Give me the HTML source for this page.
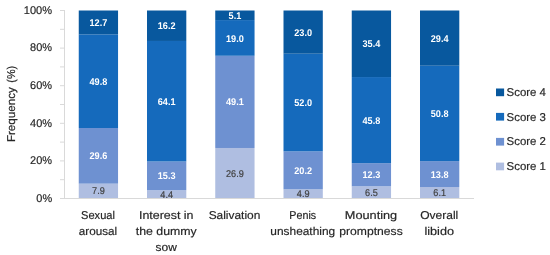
<!DOCTYPE html>
<html lang="en"><head><meta charset="utf-8"><title>Frequency chart</title>
<style>html,body{margin:0;padding:0;background:#fff}body{width:550px;height:255px;overflow:hidden}svg{display:block}text{font-family:"Liberation Sans",sans-serif;text-rendering:geometricPrecision}</style></head><body>
<svg width="550" height="255" viewBox="0 0 550 255">
<rect width="550" height="255" fill="#fff"/>
<text x="36.30" y="201.80" font-size="11.2" stroke="#262626" stroke-width="0.18" fill="#262626" textLength="15.80" lengthAdjust="spacingAndGlyphs">0%</text>
<text x="30.10" y="164.20" font-size="11.2" stroke="#262626" stroke-width="0.18" fill="#262626" textLength="22.00" lengthAdjust="spacingAndGlyphs">20%</text>
<text x="30.10" y="126.60" font-size="11.2" stroke="#262626" stroke-width="0.18" fill="#262626" textLength="22.00" lengthAdjust="spacingAndGlyphs">40%</text>
<text x="30.10" y="89.00" font-size="11.2" stroke="#262626" stroke-width="0.18" fill="#262626" textLength="22.00" lengthAdjust="spacingAndGlyphs">60%</text>
<text x="30.10" y="51.40" font-size="11.2" stroke="#262626" stroke-width="0.18" fill="#262626" textLength="22.00" lengthAdjust="spacingAndGlyphs">80%</text>
<text x="23.80" y="13.80" font-size="11.2" stroke="#262626" stroke-width="0.18" fill="#262626" textLength="28.30" lengthAdjust="spacingAndGlyphs">100%</text>
<g transform="translate(14.9 0) rotate(-90)" font-size="11.4" fill="#262626" stroke="#262626" stroke-width="0.18">
<text x="-142.1" y="0" textLength="54.9" lengthAdjust="spacingAndGlyphs">Frequency</text>
<text x="-82.7" y="0" textLength="16.9" lengthAdjust="spacingAndGlyphs">(%)</text>
</g>
<rect x="78.75" y="183.65" width="39.3" height="14.85" fill="#afbee1"/>
<rect x="78.75" y="128.00" width="39.3" height="55.65" fill="#6e91d1"/>
<rect x="78.75" y="34.38" width="39.3" height="93.62" fill="#156abc"/>
<rect x="78.75" y="10.50" width="39.3" height="23.88" fill="#08589e"/>
<text x="92.05" y="194.47" font-size="9.8" stroke="#404040" stroke-width="0.2" fill="#404040" textLength="12.70" lengthAdjust="spacingAndGlyphs">7.9</text>
<text x="89.50" y="159.42" font-size="9.8" font-weight="bold" fill="#ffffff" textLength="17.80" lengthAdjust="spacingAndGlyphs">29.6</text>
<text x="89.50" y="84.79" font-size="9.8" font-weight="bold" fill="#ffffff" textLength="17.80" lengthAdjust="spacingAndGlyphs">49.8</text>
<text x="89.50" y="26.04" font-size="9.8" font-weight="bold" fill="#ffffff" textLength="17.80" lengthAdjust="spacingAndGlyphs">12.7</text>
<text x="81.05" y="219.30" font-size="11.4" stroke="#262626" stroke-width="0.18" fill="#262626" textLength="33.90" lengthAdjust="spacingAndGlyphs">Sexual</text>
<text x="78.80" y="235.10" font-size="11.4" stroke="#262626" stroke-width="0.18" fill="#262626" textLength="38.40" lengthAdjust="spacingAndGlyphs">arousal</text>
<rect x="147.00" y="190.23" width="39.3" height="8.27" fill="#afbee1"/>
<rect x="147.00" y="161.46" width="39.3" height="28.76" fill="#6e91d1"/>
<rect x="147.00" y="40.96" width="39.3" height="120.51" fill="#156abc"/>
<rect x="147.00" y="10.50" width="39.3" height="30.46" fill="#08589e"/>
<text x="160.30" y="197.76" font-size="9.8" stroke="#404040" stroke-width="0.2" fill="#404040" textLength="12.70" lengthAdjust="spacingAndGlyphs">4.4</text>
<text x="157.75" y="179.45" font-size="9.8" font-weight="bold" fill="#ffffff" textLength="17.80" lengthAdjust="spacingAndGlyphs">15.3</text>
<text x="157.75" y="104.81" font-size="9.8" font-weight="bold" fill="#ffffff" textLength="17.80" lengthAdjust="spacingAndGlyphs">64.1</text>
<text x="157.75" y="29.33" font-size="9.8" font-weight="bold" fill="#ffffff" textLength="17.80" lengthAdjust="spacingAndGlyphs">16.2</text>
<text x="138.95" y="219.30" font-size="11.4" stroke="#262626" stroke-width="0.18" fill="#262626" textLength="54.60" lengthAdjust="spacingAndGlyphs">Interest in</text>
<text x="135.75" y="235.10" font-size="11.4" stroke="#262626" stroke-width="0.18" fill="#262626" textLength="61.00" lengthAdjust="spacingAndGlyphs">the dummy</text>
<text x="155.60" y="250.90" font-size="11.4" stroke="#262626" stroke-width="0.18" fill="#262626" textLength="21.30" lengthAdjust="spacingAndGlyphs">sow</text>
<rect x="215.25" y="147.98" width="39.3" height="50.52" fill="#afbee1"/>
<rect x="215.25" y="55.76" width="39.3" height="92.22" fill="#6e91d1"/>
<rect x="215.25" y="20.08" width="39.3" height="35.68" fill="#156abc"/>
<rect x="215.25" y="10.50" width="39.3" height="9.58" fill="#08589e"/>
<text x="226.00" y="176.64" font-size="9.8" stroke="#404040" stroke-width="0.2" fill="#404040" textLength="17.80" lengthAdjust="spacingAndGlyphs">26.9</text>
<text x="226.00" y="105.47" font-size="9.8" font-weight="bold" fill="#ffffff" textLength="17.80" lengthAdjust="spacingAndGlyphs">49.1</text>
<text x="226.00" y="41.52" font-size="9.8" font-weight="bold" fill="#ffffff" textLength="17.80" lengthAdjust="spacingAndGlyphs">19.0</text>
<text x="228.55" y="18.89" font-size="9.8" font-weight="bold" fill="#ffffff" textLength="12.70" lengthAdjust="spacingAndGlyphs">5.1</text>
<text x="208.65" y="219.30" font-size="11.4" stroke="#262626" stroke-width="0.18" fill="#262626" textLength="51.70" lengthAdjust="spacingAndGlyphs">Salivation</text>
<rect x="283.50" y="189.30" width="39.3" height="9.20" fill="#afbee1"/>
<rect x="283.50" y="151.36" width="39.3" height="37.94" fill="#6e91d1"/>
<rect x="283.50" y="53.70" width="39.3" height="97.66" fill="#156abc"/>
<rect x="283.50" y="10.50" width="39.3" height="43.20" fill="#08589e"/>
<text x="296.80" y="197.30" font-size="9.8" stroke="#404040" stroke-width="0.2" fill="#404040" textLength="12.70" lengthAdjust="spacingAndGlyphs">4.9</text>
<text x="294.25" y="173.93" font-size="9.8" font-weight="bold" fill="#ffffff" textLength="17.80" lengthAdjust="spacingAndGlyphs">20.2</text>
<text x="294.25" y="106.13" font-size="9.8" font-weight="bold" fill="#ffffff" textLength="17.80" lengthAdjust="spacingAndGlyphs">52.0</text>
<text x="294.25" y="35.70" font-size="9.8" font-weight="bold" fill="#ffffff" textLength="17.80" lengthAdjust="spacingAndGlyphs">23.0</text>
<text x="289.35" y="219.30" font-size="11.4" stroke="#262626" stroke-width="0.18" fill="#262626" textLength="26.80" lengthAdjust="spacingAndGlyphs">Penis</text>
<text x="270.35" y="235.10" font-size="11.4" stroke="#262626" stroke-width="0.18" fill="#262626" textLength="64.80" lengthAdjust="spacingAndGlyphs">unsheathing</text>
<rect x="351.75" y="186.28" width="39.3" height="12.22" fill="#afbee1"/>
<rect x="351.75" y="163.16" width="39.3" height="23.12" fill="#6e91d1"/>
<rect x="351.75" y="77.05" width="39.3" height="86.10" fill="#156abc"/>
<rect x="351.75" y="10.50" width="39.3" height="66.55" fill="#08589e"/>
<text x="365.05" y="195.79" font-size="9.8" stroke="#404040" stroke-width="0.2" fill="#404040" textLength="12.70" lengthAdjust="spacingAndGlyphs">6.5</text>
<text x="362.50" y="178.32" font-size="9.8" font-weight="bold" fill="#ffffff" textLength="17.80" lengthAdjust="spacingAndGlyphs">12.3</text>
<text x="362.50" y="123.70" font-size="9.8" font-weight="bold" fill="#ffffff" textLength="17.80" lengthAdjust="spacingAndGlyphs">45.8</text>
<text x="362.50" y="47.38" font-size="9.8" font-weight="bold" fill="#ffffff" textLength="17.80" lengthAdjust="spacingAndGlyphs">35.4</text>
<text x="344.80" y="219.30" font-size="11.4" stroke="#262626" stroke-width="0.18" fill="#262626" textLength="52.40" lengthAdjust="spacingAndGlyphs">Mounting</text>
<text x="339.30" y="235.10" font-size="11.4" stroke="#262626" stroke-width="0.18" fill="#262626" textLength="63.40" lengthAdjust="spacingAndGlyphs">promptness</text>
<rect x="420.00" y="187.04" width="39.3" height="11.46" fill="#afbee1"/>
<rect x="420.00" y="161.13" width="39.3" height="25.92" fill="#6e91d1"/>
<rect x="420.00" y="65.72" width="39.3" height="95.41" fill="#156abc"/>
<rect x="420.00" y="10.50" width="39.3" height="55.22" fill="#08589e"/>
<text x="433.30" y="196.17" font-size="9.8" stroke="#404040" stroke-width="0.2" fill="#404040" textLength="12.70" lengthAdjust="spacingAndGlyphs">6.1</text>
<text x="430.75" y="177.68" font-size="9.8" font-weight="bold" fill="#ffffff" textLength="17.80" lengthAdjust="spacingAndGlyphs">13.8</text>
<text x="430.75" y="117.02" font-size="9.8" font-weight="bold" fill="#ffffff" textLength="17.80" lengthAdjust="spacingAndGlyphs">50.8</text>
<text x="430.75" y="41.71" font-size="9.8" font-weight="bold" fill="#ffffff" textLength="17.80" lengthAdjust="spacingAndGlyphs">29.4</text>
<text x="420.20" y="219.30" font-size="11.4" stroke="#262626" stroke-width="0.18" fill="#262626" textLength="38.10" lengthAdjust="spacingAndGlyphs">Overall</text>
<text x="424.45" y="235.10" font-size="11.4" stroke="#262626" stroke-width="0.18" fill="#262626" textLength="29.60" lengthAdjust="spacingAndGlyphs">libido</text>
<g stroke="#d9d9d9" stroke-width="1" fill="none">
<line x1="64.5" y1="10.0" x2="64.5" y2="198.5"/>
<line x1="60.0" y1="198.5" x2="474.0" y2="198.5"/>
<line x1="60.0" y1="179.70" x2="64.5" y2="179.70"/>
<line x1="60.0" y1="160.90" x2="64.5" y2="160.90"/>
<line x1="60.0" y1="142.10" x2="64.5" y2="142.10"/>
<line x1="60.0" y1="123.30" x2="64.5" y2="123.30"/>
<line x1="60.0" y1="104.50" x2="64.5" y2="104.50"/>
<line x1="60.0" y1="85.70" x2="64.5" y2="85.70"/>
<line x1="60.0" y1="66.90" x2="64.5" y2="66.90"/>
<line x1="60.0" y1="48.10" x2="64.5" y2="48.10"/>
<line x1="60.0" y1="29.30" x2="64.5" y2="29.30"/>
<line x1="60.0" y1="10.50" x2="64.5" y2="10.50"/>
</g>
<rect x="496" y="88.50" width="8.1" height="7.7" fill="#08589e"/>
<text x="506.60" y="96.30" font-size="11.4" stroke="#262626" stroke-width="0.18" fill="#262626" textLength="39.30" lengthAdjust="spacingAndGlyphs">Score 4</text>
<rect x="496" y="112.90" width="8.1" height="7.7" fill="#156abc"/>
<text x="506.60" y="120.50" font-size="11.4" stroke="#262626" stroke-width="0.18" fill="#262626" textLength="39.30" lengthAdjust="spacingAndGlyphs">Score 3</text>
<rect x="496" y="137.90" width="8.1" height="7.7" fill="#6e91d1"/>
<text x="506.60" y="145.20" font-size="11.4" stroke="#262626" stroke-width="0.18" fill="#262626" textLength="39.30" lengthAdjust="spacingAndGlyphs">Score 2</text>
<rect x="496" y="162.60" width="8.1" height="7.7" fill="#afbee1"/>
<text x="506.60" y="169.80" font-size="11.4" stroke="#262626" stroke-width="0.18" fill="#262626" textLength="39.30" lengthAdjust="spacingAndGlyphs">Score 1</text>
</svg></body></html>
